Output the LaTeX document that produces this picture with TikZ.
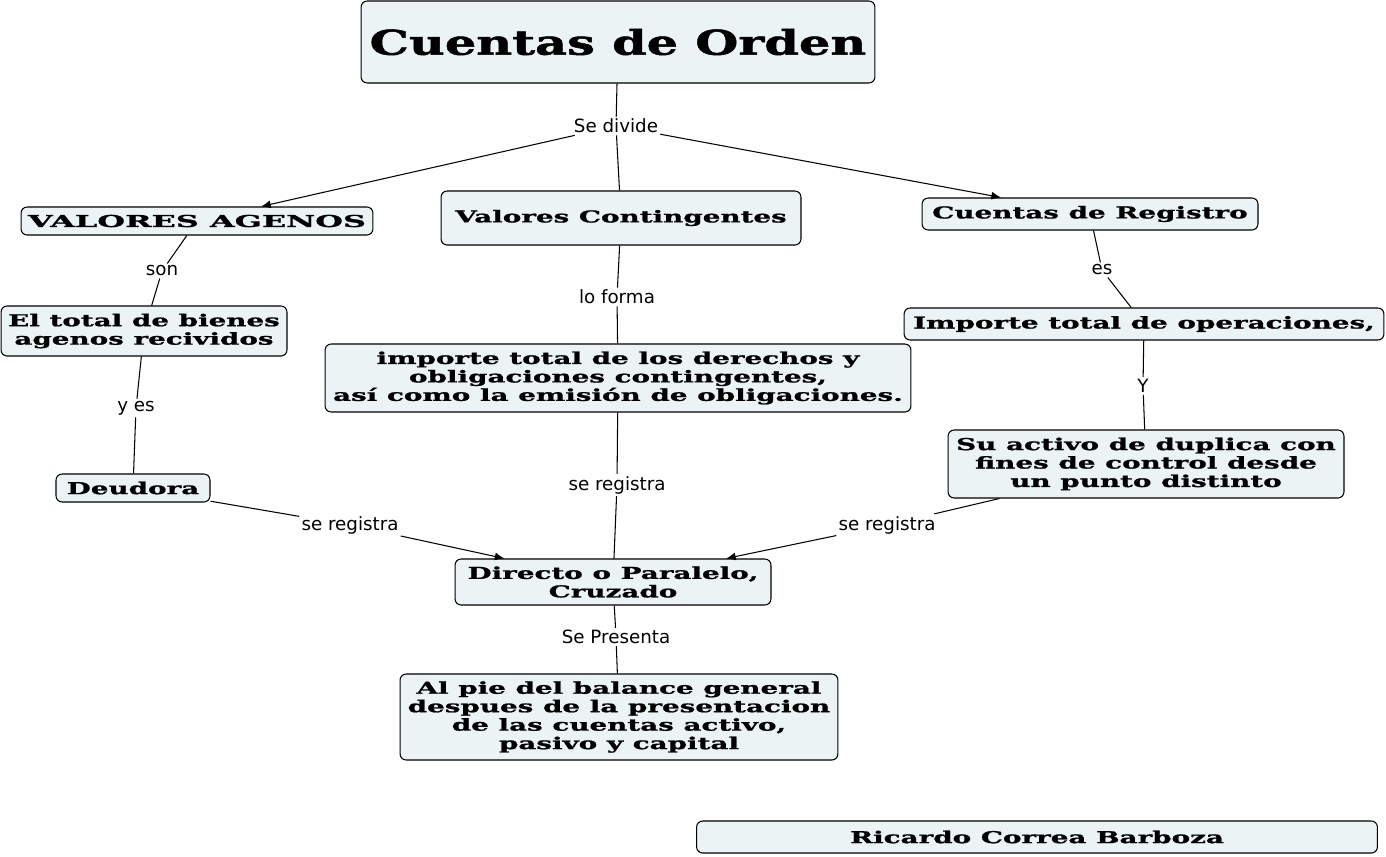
\documentclass[tikz,border=0pt]{standalone}
\usepackage{fontspec}
\newfontfamily\conceptfont[FakeStretch=1.7, FakeBold=1.2]{DejaVu Serif}
\newfontfamily\titlefont[FakeStretch=1.45, FakeBold=1.5]{DejaVu Serif}
\newfontfamily\capsfont[FakeStretch=1.95, FakeBold=1.2]{DejaVu Serif}
\newfontfamily\linkfont{DejaVu Sans}
\definecolor{conceptfill}{RGB}{236, 243, 245}
\usetikzlibrary{arrows.meta}

\begin{document}
\begin{tikzpicture}[
  x=0.02cm, y=-0.02cm, line width=0.6pt,
  concept/.style={draw, fill=conceptfill, rounded corners=3.5pt, align=center, inner sep=0pt,
    font=\conceptfont\bfseries\fontsize{9.3}{10.5}\selectfont},
  link/.style={font=\linkfont\fontsize{10.4}{12}\selectfont, inner sep=1pt},
  arr/.style={-{Latex[length=5.5pt, width=4.5pt]}}
]
  \useasboundingbox (0,0) rectangle (1386,856);

  % Concepts
  \node[concept, minimum width=10.28cm, minimum height=1.64cm,
    font=\titlefont\bfseries\fontsize{19.4}{22}\selectfont] (orden) at (618, 42) {Cuentas de Orden};
  \node[concept, minimum width=7.04cm, minimum height=0.56cm,
    font=\capsfont\bfseries\fontsize{9.3}{10.5}\selectfont] (agenos) at (197, 221) {VALORES AGENOS};
  \node[concept, minimum width=7.2cm, minimum height=1.08cm] (conting) at (621, 218) {Valores Contingentes};
  \node[concept, minimum width=6.72cm, minimum height=0.64cm] (registro) at (1090, 214) {Cuentas de Registro};
  \node[concept, minimum width=5.72cm, minimum height=1.0cm] (bienes) at (144, 331) {El total de bienes\\agenos recividos};
  \node[concept, minimum width=11.72cm, minimum height=1.36cm] (derechos) at (618, 378)
    {importe total de los derechos y\\obligaciones contingentes,\\así como la emisión de obligaciones.};
  \node[concept, minimum width=9.6cm, minimum height=0.64cm] (operac) at (1144, 324) {Importe total de operaciones,};
  \node[concept, minimum width=7.92cm, minimum height=1.36cm] (activo) at (1146, 464)
    {Su activo de duplica con\\fines de control desde\\un punto distinto};
  \node[concept, minimum width=3.08cm, minimum height=0.56cm] (deudora) at (133, 488) {Deudora};
  \node[concept, minimum width=6.32cm, minimum height=0.92cm] (directo) at (613, 582) {Directo o Paralelo,\\Cruzado};
  \node[concept, minimum width=8.76cm, minimum height=1.72cm] (balance) at (619, 717)
    {Al pie del balance general\\despues de la presentacion\\de las cuentas activo,\\pasivo y capital};
  \node[concept, minimum width=13.62cm, minimum height=0.64cm] (autor) at (1037, 837) {Ricardo Correa Barboza};

  % Linking phrases
  \node[link] (divide) at (616, 126) {Se divide};
  \node[link] (son) at (162, 271) {son};
  \node[link] (forma) at (617, 297) {lo forma};
  \node[link] (es) at (1102, 270) {es};
  \node[link] (yes) at (136, 408) {y es};
  \node[link] (y) at (1143, 386) {Y};
  \node[link] (regc) at (617, 485) {se registra};
  \node[link] (regl) at (350, 525) {se registra};
  \node[link] (regr) at (887, 525) {se registra};
  \node[link] (presenta) at (616, 637) {Se Presenta};

  % Connections
  \draw (orden) -- (divide);
  \draw[arr] (divide) -- (agenos);
  \draw (divide) -- (conting);
  \draw[arr] (divide) -- (registro);
  \draw (agenos) -- (son) -- (bienes);
  \draw (bienes) -- (yes) -- (deudora);
  \draw (conting) -- (forma) -- (derechos);
  \draw (registro) -- (es) -- (operac);
  \draw (operac) -- (y) -- (activo);
  \draw (derechos) -- (regc) -- (directo);
  \draw (deudora) -- (regl);
  \draw[arr] (regl) -- (directo);
  \draw (activo) -- (regr);
  \draw[arr] (regr) -- (directo);
  \draw (directo) -- (presenta) -- (balance);
\end{tikzpicture}
\end{document}
